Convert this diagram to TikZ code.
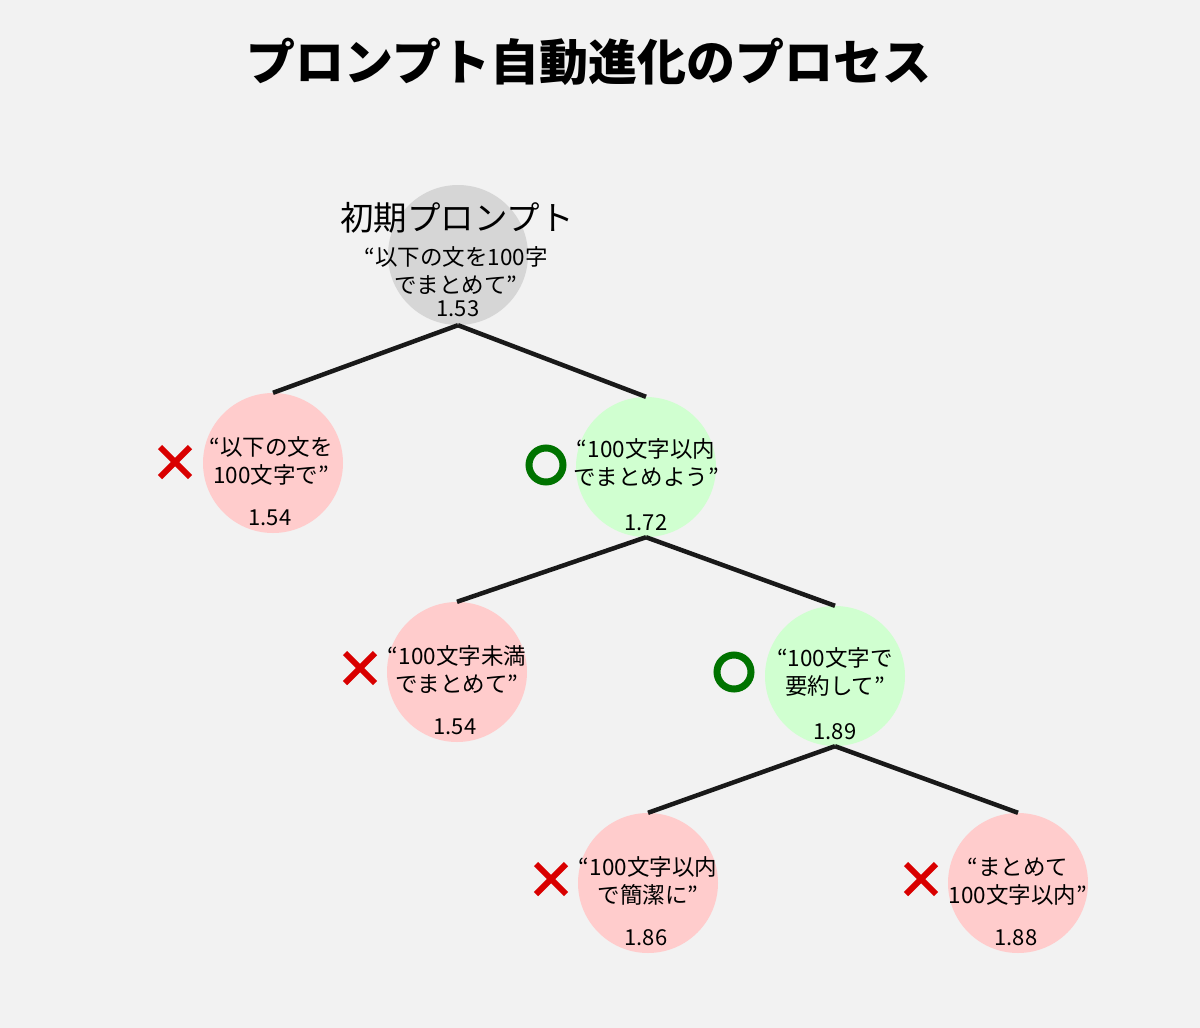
\documentclass[tikz,border=0pt]{standalone}
\usepackage{fontspec}
\setmainfont{Noto Sans CJK JP}
\begin{document}
\begin{tikzpicture}[x=1pt,y=-1pt,
  bub/.style={circle,minimum size=140pt,inner sep=0pt},
  bad/.style={bub,fill=red!20},
  good/.style={bub,fill={rgb,255:red,208;green,255;blue,208}},
  edge/.style={line width=4.5pt,black!90},
  txt/.style={font=\fontsize{22.5}{28}\selectfont,align=center},
  num/.style={font=\fontsize{22}{24}\selectfont},
  xmark/.style={red!85!black,line width=6pt},
  omark/.style={draw=green!45!black,line width=7pt,circle,minimum size=34pt,inner sep=0pt}]
\fill[black!5] (0,0) rectangle (1200,1028);
\useasboundingbox (0,0) rectangle (1200,1028);
\node[font=\fontsize{49}{52}\selectfont\bfseries] (title) at (589,62) {プロンプト自動進化のプロセス};
\node[bub,fill=black!16] (r) at (458,255) {};
\node[bad] (a) at (273,463) {};
\node[good] (b) at (646,467) {};
\node[bad] (c) at (457,672) {};
\node[good] (d) at (835,676) {};
\node[bad] (e) at (648,883) {};
\node[bad] (f) at (1018,883) {};
\draw[edge] (r.south) -- (a.north);
\draw[edge] (r.south) -- (b.north);
\draw[edge] (b.south) -- (c.north);
\draw[edge] (b.south) -- (d.north);
\draw[edge] (d.south) -- (e.north);
\draw[edge] (d.south) -- (f.north);
\node[font=\fontsize{33.5}{36}\selectfont] (rt) at (457,218) {初期プロンプト};
\node[txt] (rq) at (456,271) {“以下の文を100字\\でまとめて”};
\node[num] (rn) at (458,309) {1.53};
\node[txt] (aq) at (271,461) {“以下の文を\\100文字で”};
\node[num] (an) at (270,518) {1.54};
\node[txt] (bq) at (646,463) {“100文字以内\\でまとめよう”};
\node[num] (bn) at (646,523) {1.72};
\node[txt] (cq) at (457,670) {“100文字未満\\でまとめて”};
\node[num] (cn) at (455,727) {1.54};
\node[txt] (dq) at (835,672) {“100文字で\\要約して”};
\node[num] (dn) at (835,732) {1.89};
\node[txt] (eq) at (648,881) {“100文字以内\\で簡潔に”};
\node[num] (en) at (646,938) {1.86};
\node[txt] (fq) at (1018,881) {“まとめて\\100文字以内”};
\node[num] (fn) at (1016,938) {1.88};
\foreach \n/\x/\y in {xa/175/462,xc/360/668,xe/551/879,xf/921/879}{
  \coordinate (\n) at (\x,\y);
  \draw[xmark] ([shift={(-15,-15)}]\n) -- ([shift={(15,15)}]\n);
  \draw[xmark] ([shift={(-15,15)}]\n) -- ([shift={(15,-15)}]\n);
}
\node[omark] (ob) at (546,465) {};
\node[omark] (od) at (734,672) {};
\end{tikzpicture}
\end{document}
